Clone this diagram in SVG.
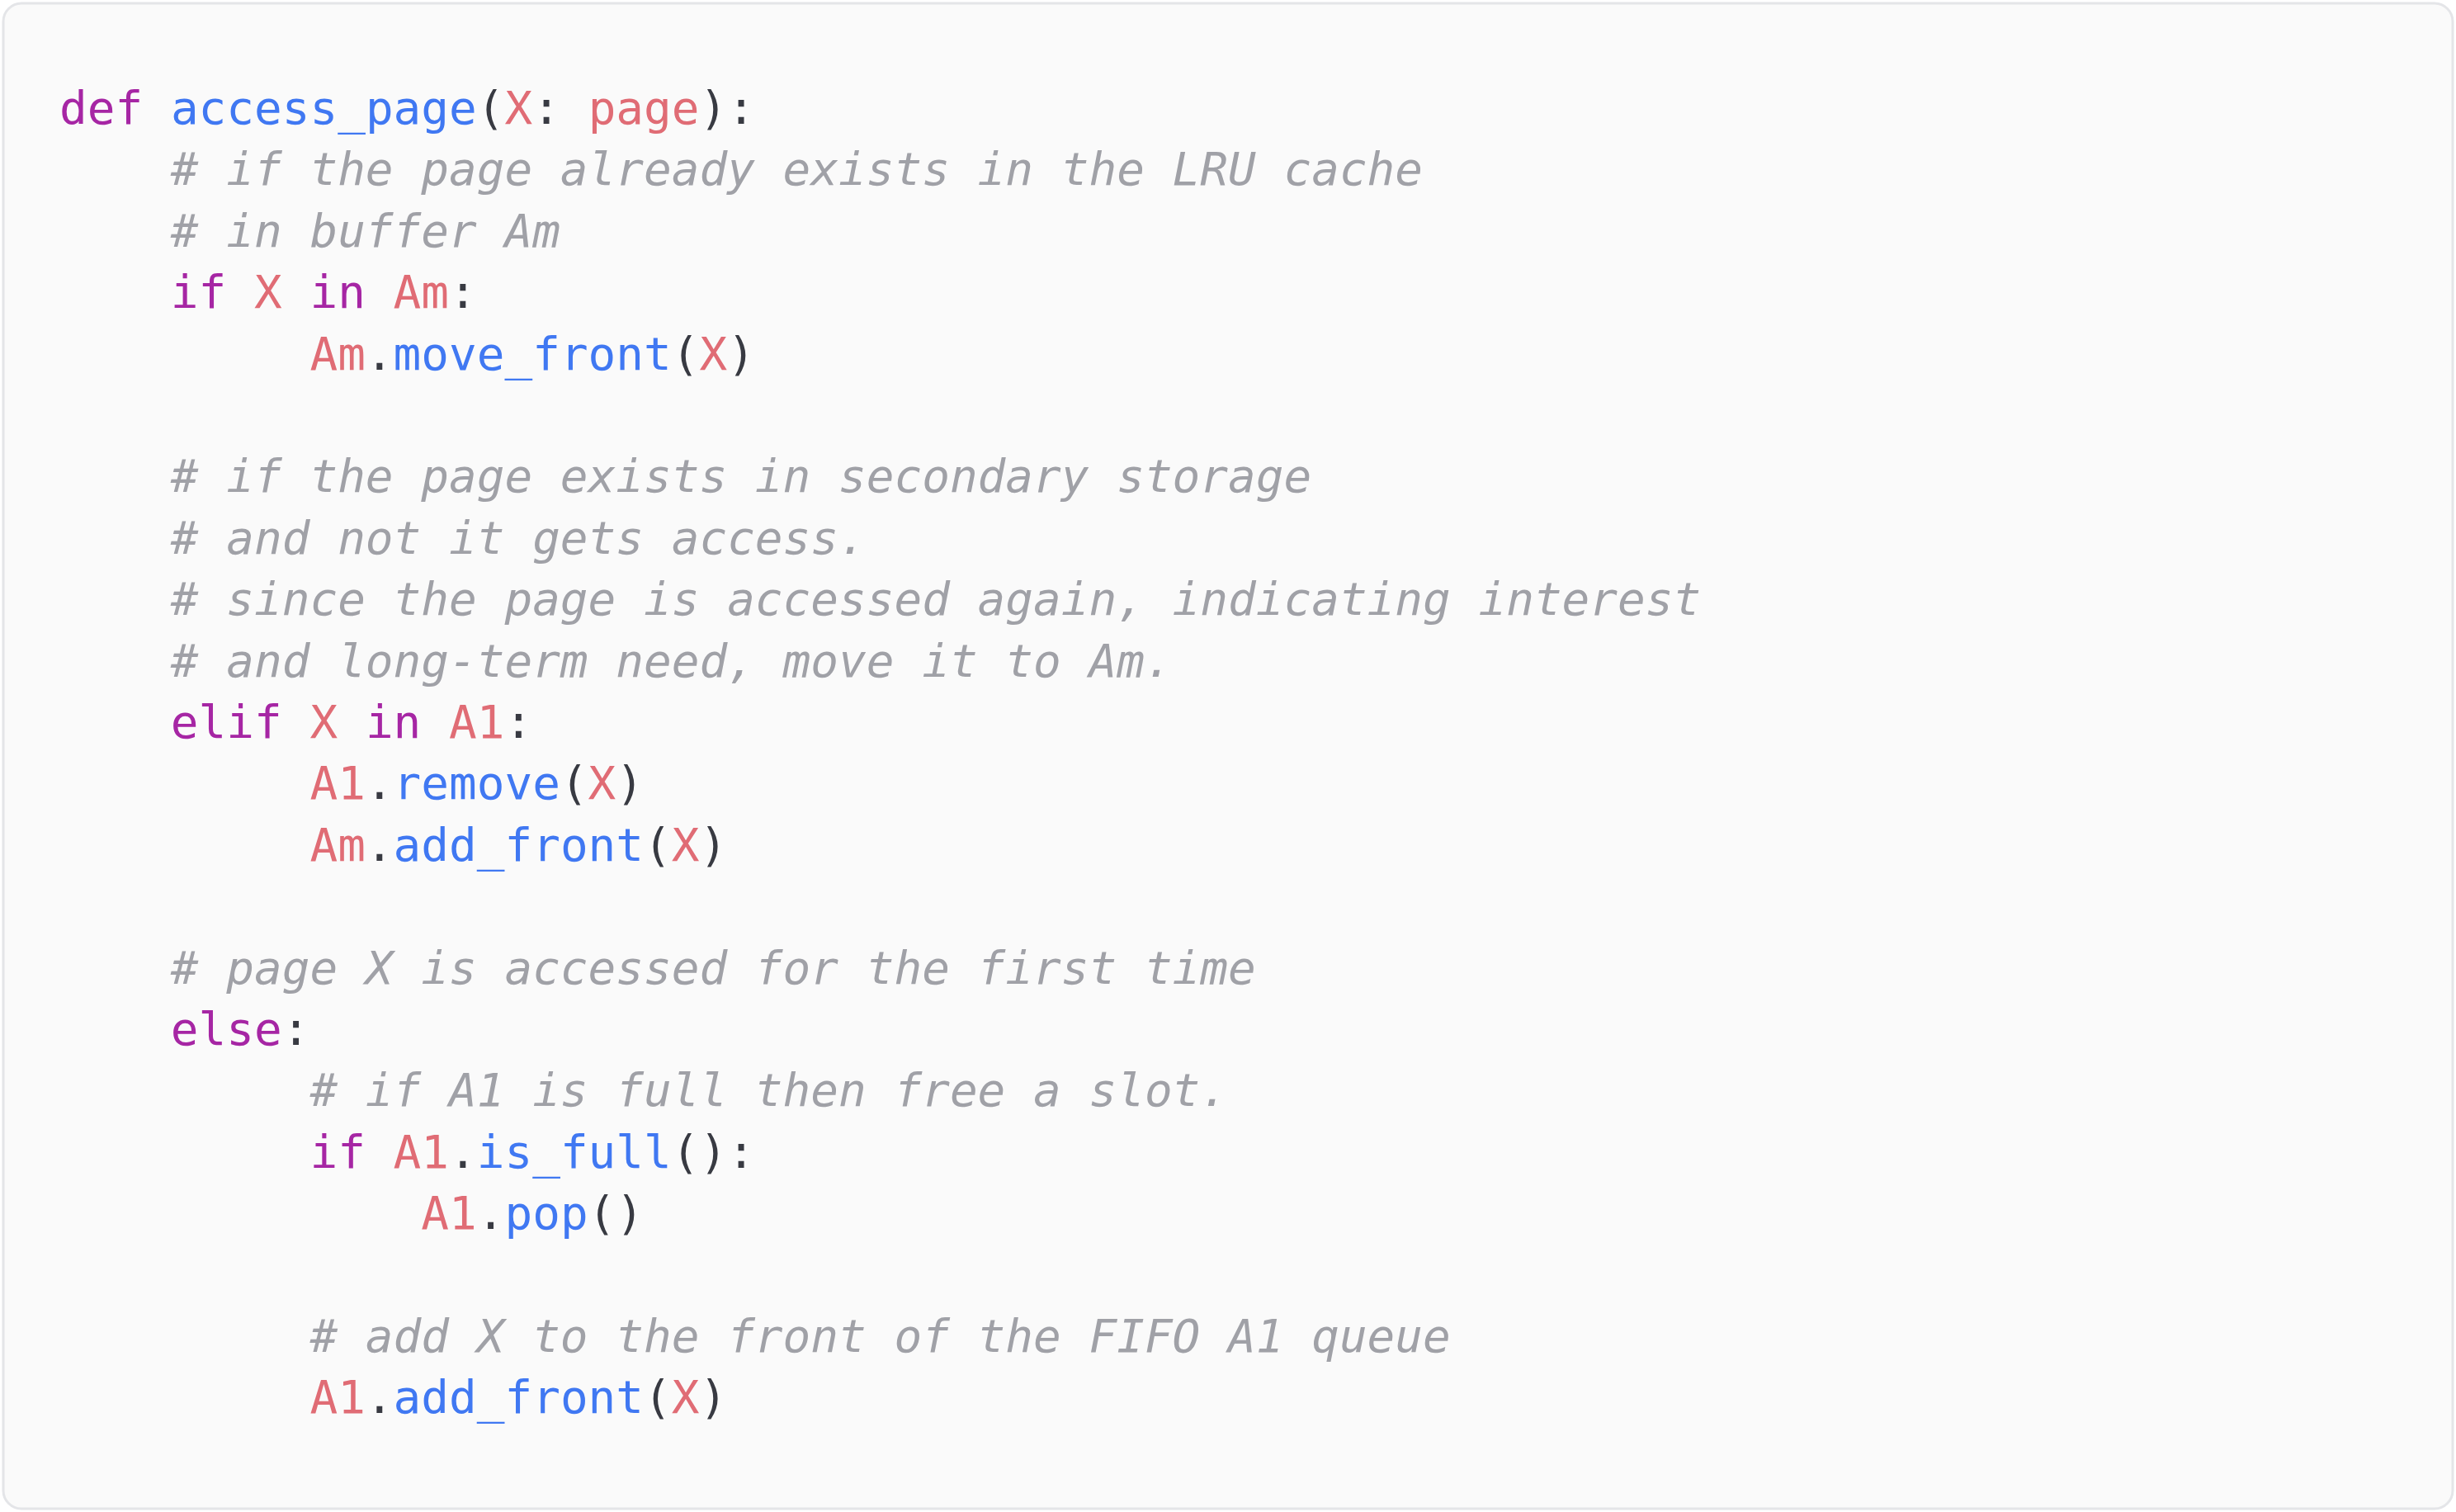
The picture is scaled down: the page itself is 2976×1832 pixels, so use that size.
<svg xmlns="http://www.w3.org/2000/svg" width="2976" height="1832" viewBox="0 0 2976 1832">
<style>
text{font-family:"DejaVu Sans Mono",monospace;font-size:56px;fill:#383a42;white-space:pre}
.k{fill:#a626a4}.f{fill:#4078f2}.v{fill:#e06c75}.c{fill:#a0a1a7;font-style:italic}
</style>
<rect width="2976" height="1832" fill="#ffffff"/>
<rect x="4" y="4" width="2968" height="1824" rx="22" fill="#fafafa" stroke="#e4e5e8" stroke-width="3"/>
<g id="code" xml:space="preserve">
<text x="72" y="150"><tspan class="k">def</tspan> <tspan class="f">access_page</tspan>(<tspan class="v">X</tspan>: <tspan class="v">page</tspan>):</text>
<text x="72" y="224" class="c">    # if the page already exists in the LRU cache</text>
<text x="72" y="299" class="c">    # in buffer Am</text>
<text x="72" y="373">    <tspan class="k">if</tspan> <tspan class="v">X</tspan> <tspan class="k">in</tspan> <tspan class="v">Am</tspan>:</text>
<text x="72" y="448">         <tspan class="v">Am</tspan>.<tspan class="f">move_front</tspan>(<tspan class="v">X</tspan>)</text>
<text x="72" y="596" class="c">    # if the page exists in secondary storage</text>
<text x="72" y="671" class="c">    # and not it gets access.</text>
<text x="72" y="745" class="c">    # since the page is accessed again, indicating interest</text>
<text x="72" y="820" class="c">    # and long-term need, move it to Am.</text>
<text x="72" y="894">    <tspan class="k">elif</tspan> <tspan class="v">X</tspan> <tspan class="k">in</tspan> <tspan class="v">A1</tspan>:</text>
<text x="72" y="968">         <tspan class="v">A1</tspan>.<tspan class="f">remove</tspan>(<tspan class="v">X</tspan>)</text>
<text x="72" y="1043">         <tspan class="v">Am</tspan>.<tspan class="f">add_front</tspan>(<tspan class="v">X</tspan>)</text>
<text x="72" y="1192" class="c">    # page X is accessed for the first time</text>
<text x="72" y="1266">    <tspan class="k">else</tspan>:</text>
<text x="72" y="1340" class="c">         # if A1 is full then free a slot.</text>
<text x="72" y="1415">         <tspan class="k">if</tspan> <tspan class="v">A1</tspan>.<tspan class="f">is_full</tspan>():</text>
<text x="72" y="1489">             <tspan class="v">A1</tspan>.<tspan class="f">pop</tspan>()</text>
<text x="72" y="1638" class="c">         # add X to the front of the FIFO A1 queue</text>
<text x="72" y="1712">         <tspan class="v">A1</tspan>.<tspan class="f">add_front</tspan>(<tspan class="v">X</tspan>)</text>
</g>
</svg>
